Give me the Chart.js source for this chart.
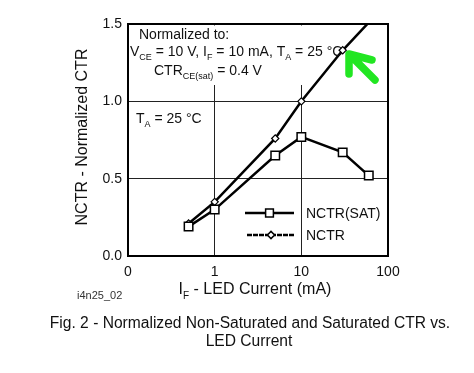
<!DOCTYPE html>
<html>
<head>
<meta charset="utf-8">
<script src="https://cdn.jsdelivr.net/npm/chart.js@4/dist/chart.umd.min.js"></script>
<style>
  html, body { margin: 0; padding: 0; background: #fff; }
  #wrap { width: 474px; height: 373px; position: relative; }
</style>
</head>
<body>
<div id="wrap"><canvas id="c" width="474" height="373"></canvas></div>
<script>
// ---- data ----
const currentSat = [0.5, 1, 5, 10, 30, 60];          // I_F (mA)
const nctrSat    = [0.19, 0.30, 0.65, 0.77, 0.67, 0.52];
const currentNctr = [0.5, 1, 5, 10, 30, 60];
const nctr        = [0.21, 0.35, 0.76, 1.00, 1.33, 1.51];
const nctrMarkerShown = [true, true, true, true, true, false];
const xTicks = [0.1, 1, 10, 100];
const xTickLabels = ['0', '1', '10', '100'];
const yTicks = [0, 0.5, 1.0, 1.5];
const yTickLabels = ['0.0', '0.5', '1.0', '1.5'];
const seriesNames = ['NCTR(SAT)', 'NCTR'];

const FONT = "'Liberation Sans', Arial, sans-serif";
const INK = '#111';

function drawRich(ctx, x, y, segs, size) {
  ctx.save();
  ctx.textBaseline = 'middle';
  ctx.textAlign = 'left';
  ctx.fillStyle = INK;
  let cx = x;
  for (const s of segs) {
    if (s.sub) {
      ctx.font = Math.round(size * 0.62) + 'px ' + FONT;
      ctx.fillText(s.t, cx, y + size * 0.38);
    } else {
      ctx.font = size + 'px ' + FONT;
      ctx.fillText(s.t, cx, y);
    }
    cx += ctx.measureText(s.t).width;
  }
  ctx.restore();
  return cx - x;
}
function richWidth(ctx, segs, size) {
  let w = 0;
  ctx.save();
  for (const s of segs) {
    ctx.font = (s.sub ? Math.round(size * 0.62) : size) + 'px ' + FONT;
    w += ctx.measureText(s.t).width;
  }
  ctx.restore();
  return w;
}

const decor = {
  id: 'decor',
  beforeDatasetsDraw(chart) {
    const { ctx, chartArea: a } = chart;
    ctx.save();
    ctx.fillStyle = '#fff';
    ctx.fillRect(a.left + 1.5, a.top + 1.5, a.right - a.left - 3, 85 - a.top - 1.5);
    ctx.restore();
  },
  afterDatasetsDraw(chart) {
    const { ctx, chartArea: a } = chart;
    ctx.save();
    ctx.strokeStyle = '#000';
    ctx.lineWidth = 2;
    ctx.strokeRect(a.left, a.top, a.right - a.left, a.bottom - a.top);
    ctx.restore();

    ctx.save();
    ctx.font = '14px ' + FONT;
    ctx.fillStyle = INK;
    ctx.textBaseline = 'middle';
    ctx.fillText('Normalized to:', 139, 35);
    ctx.restore();
    drawRich(ctx, 130, 52, [{t:'V'},{t:'CE',sub:true},{t:' = 10 V, I'},{t:'F',sub:true},{t:' = 10 mA, T'},{t:'A',sub:true},{t:' = 25 °C'}], 14);
    drawRich(ctx, 154, 71, [{t:'CTR'},{t:'CE(sat)',sub:true},{t:' = 0.4 V'}], 14);
    drawRich(ctx, 136, 119, [{t:'T'},{t:'A',sub:true},{t:' = 25 °C'}], 14);

    const ds = chart.data.datasets;
    const rows = [{y: 213, x0: 245, x1: 294, dash: []}, {y: 235, x0: 247, x1: 295, dash: [5, 1]}];
    rows.forEach((r, i) => {
      const d = ds[i];
      ctx.save();
      ctx.strokeStyle = '#000';
      ctx.lineWidth = 2.5;
      ctx.setLineDash(r.dash);
      ctx.beginPath();
      ctx.moveTo(r.x0, r.y); ctx.lineTo(r.x1, r.y);
      ctx.stroke();
      ctx.setLineDash([]);
      ctx.fillStyle = '#fff';
      ctx.lineWidth = 1.5;
      Chart.helpers.drawPoint(ctx, {
        pointStyle: d.pointStyle, radius: i === 0 ? 5.5 : 3.6, rotation: 0, borderWidth: 1.5
      }, (r.x0 + r.x1) / 2, r.y);
      ctx.restore();
      ctx.save();
      ctx.font = '14px ' + FONT;
      ctx.fillStyle = INK;
      ctx.textBaseline = 'middle';
      ctx.fillText(d.label, 306, r.y + 1);
      ctx.restore();
    });

    ctx.save();
    ctx.strokeStyle = '#22e622';
    ctx.lineWidth = 7.5;
    ctx.lineCap = 'round';
    ctx.lineJoin = 'round';
    ctx.beginPath();
    ctx.moveTo(375, 80); ctx.lineTo(350, 55);
    ctx.moveTo(349, 74); ctx.lineTo(349, 54); ctx.lineTo(372, 60);
    ctx.stroke();
    ctx.restore();
  },
  afterDraw(chart) {
    const { ctx } = chart;
    ctx.save();
    ctx.translate(83, 137);
    ctx.rotate(-Math.PI / 2);
    ctx.font = '16px ' + FONT;
    ctx.fillStyle = INK;
    ctx.textAlign = 'center';
    ctx.textBaseline = 'middle';
    ctx.fillText('NCTR - Normalized CTR', 0, 0);
    ctx.restore();
    const xs = [{t:'I'},{t:'F',sub:true},{t:' - LED Current (mA)'}];
    const w = richWidth(ctx, xs, 16);
    drawRich(ctx, 255 - w / 2, 290, xs, 16);
    ctx.save();
    ctx.font = '11px ' + FONT;
    ctx.fillStyle = '#333';
    ctx.textBaseline = 'middle';
    ctx.fillText('i4n25_02', 77, 296);
    ctx.font = '15.6px ' + FONT;
    ctx.fillStyle = INK;
    ctx.textAlign = 'center';
    ctx.fillText('Fig. 2 - Normalized Non-Saturated and Saturated CTR vs.', 250, 324);
    ctx.fillText('LED Current', 249, 342);
    ctx.restore();
  }
};

const ctx = document.getElementById('c').getContext('2d');
new Chart(ctx, {
  type: 'line',
  data: {
    datasets: [
      {
        label: seriesNames[0],
        data: currentSat.map((x, i) => ({ x, y: nctrSat[i] })),
        borderColor: '#000',
        borderWidth: 2.5,
        pointStyle: 'rect',
        pointRadius: 6,
        pointBorderWidth: 1.5,
        pointBackgroundColor: '#fff',
        pointBorderColor: '#000',
        tension: 0,
        clip: 0
      },
      {
        label: seriesNames[1],
        data: currentNctr.map((x, i) => ({ x, y: nctr[i] })),
        borderColor: '#000',
        borderWidth: 2.5,
        pointStyle: 'rectRot',
        pointRadius: nctrMarkerShown.map(s => s ? 3.6 : 0),
        pointBorderWidth: 1.2,
        pointBackgroundColor: '#fff',
        pointBorderColor: '#000',
        tension: 0,
        clip: 0
      }
    ]
  },
  options: {
    responsive: false,
    animation: false,
    events: [],
    layout: { padding: { top: 24, right: 86, left: 0, bottom: 0 } },
    plugins: { legend: { display: false }, tooltip: { enabled: false } },
    scales: {
      x: {
        type: 'logarithmic',
        min: xTicks[0],
        max: xTicks[xTicks.length - 1],
        afterBuildTicks: s => { s.ticks = xTicks.map(v => ({ value: v, major: true })); },
        afterFit: s => { s.height = 117; },
        ticks: {
          autoSkip: false,
          maxRotation: 0,
          padding: 8,
          color: INK,
          font: { family: FONT, size: 14 },
          callback: (v) => { const i = xTicks.indexOf(v); return i >= 0 ? xTickLabels[i] : ''; }
        },
        grid: {
          drawTicks: false,
          color: (c) => (c.tick && (c.tick.value === 1 || c.tick.value === 10)) ? '#222' : 'rgba(0,0,0,0)',
          lineWidth: 1
        },
        border: { display: false }
      },
      y: {
        min: yTicks[0],
        max: yTicks[yTicks.length - 1],
        afterBuildTicks: s => { s.ticks = yTicks.map(v => ({ value: v })); },
        afterFit: s => { s.width = 128; },
        ticks: {
          padding: 6,
          color: INK,
          font: { family: FONT, size: 14 },
          callback: (v) => { const i = yTicks.indexOf(v); return i >= 0 ? yTickLabels[i] : ''; }
        },
        grid: {
          drawTicks: false,
          color: (c) => (c.tick && (c.tick.value === 0.5 || c.tick.value === 1)) ? '#222' : 'rgba(0,0,0,0)',
          lineWidth: 1
        },
        border: { display: false }
      }
    }
  },
  plugins: [decor]
});
</script>
</body>
</html>
